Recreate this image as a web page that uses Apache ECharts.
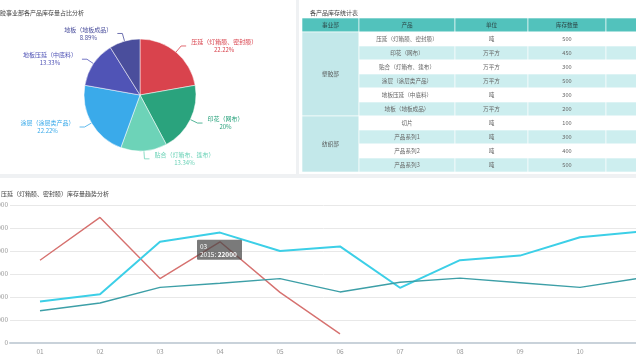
<!DOCTYPE html>
<html><head><meta charset="utf-8">
<script src="https://cdn.jsdelivr.net/npm/echarts@6/dist/echarts.min.js"></script>
<style>
html,body{margin:0;padding:0;background:#eff1f3;width:636px;height:358px;overflow:hidden;}
.panel{position:absolute;background:#fff;}
#chart{position:absolute;left:0;top:0;width:636px;height:358px;}
</style></head><body>
<div class="panel" style="left:0;top:0;width:296px;height:174px"></div>
<div class="panel" style="left:299px;top:0;width:337px;height:174px"></div>
<div class="panel" style="left:0;top:178px;width:636px;height:180px"></div>
<div id="chart"></div>
<script>
// ---- data ----
const pieTitle = '塑胶事业部各产品库存量占比分析';
const tableTitle = '各产品库存统计表';
const lineTitle = '压延（灯箱膜、密封膜）库存量趋势分析';
const tableHeaders = ['事业部', '产品', '单位', '库存数量', '备注'];
const depts = ['塑胶部', '纺织部'];
const products = ['压延（灯箱膜、密封膜）', '印花（网布）', '贴合（灯箱布、篷布）', '涂层（涂层类产品）', '地板压延（中底料）', '地板（地板成品）', '切片', '产品系列1', '产品系列2', '产品系列3'];
const productDept = [0, 0, 0, 0, 0, 0, 1, 1, 1, 1];
const units = ['吨', '万平方', '万平方', '万平方', '吨', '万平方', '吨', '吨', '吨', '吨'];
const stock = [500, 450, 300, 500, 300, 200, 100, 300, 400, 500];
const remarks = ['', '', '', '', '', '', '', '', '', ''];
const pieCount = 6; // 塑胶部 products in pie

const months = ['01', '02', '03', '04', '05', '06', '07', '08', '09', '10', '11'];
const s2015 = [18000, 27300, 14000, 22000, 11000, 2000];
const s2016 = [9000, 10600, 22000, 24000, 20000, 21000, 12000, 18000, 19000, 23000, 24200];
const s2017 = [7000, 8700, 12100, 13000, 14000, 11100, 13200, 14100, 13100, 12100, 14100];
const tipIndex = 3;
const tipLabel = '03';

// ---- styles ----
const FONT = '"Noto Sans CJK SC", "Noto Sans", sans-serif';
const pieColors = ['#d9434d', '#2aa37d', '#6dd3b8', '#3aaaea', '#5054b6', '#4a4e9c'];
const colWidths = [57, 96, 73, 78, 78];
const colEdges = colWidths.reduce((a, w) => { a.push(a[a.length - 1] + w); return a; }, [0]);

// build table cells
const cells = [];
tableHeaders.forEach((h, c) => cells.push({c0: colEdges[c], c1: colEdges[c + 1], r: 0, span: 1, text: h, kind: 'head'}));
depts.forEach((d, di) => {
  const rows = productDept.map((v, i) => v === di ? i : -1).filter(i => i >= 0);
  cells.push({c0: colEdges[0], c1: colEdges[1], r: rows[0] + 1, span: rows.length, text: d, kind: 'dept'});
});
products.forEach((p, i) => {
  const vals = [p, units[i], String(stock[i]), remarks[i]];
  vals.forEach((t, k) => cells.push({c0: colEdges[k + 1], c1: colEdges[k + 2], r: i + 1, span: 1, text: t, kind: i % 2 === 0 ? 'odd' : 'even'}));
});
const rowCats = ['h'].concat(products.map((p, i) => String(i + 1)));
const cellFill = {head: '#52c2bc', dept: '#c3e8ea', odd: '#ffffff', even: '#cdeeef'};
const cellText = {head: '#2d4a4a', dept: '#555', odd: '#666', even: '#666'};

const chart = echarts.init(document.getElementById('chart'), null, {renderer: 'canvas'});
const option = {
  animation: false,
  textStyle: {fontFamily: FONT},
  title: [
    {text: pieTitle, left: -11, top: 5, textStyle: {fontSize: 6, fontWeight: 'normal', color: '#444', fontFamily: FONT}},
    {text: tableTitle, left: 305, top: 5, textStyle: {fontSize: 6, fontWeight: 'normal', color: '#444', fontFamily: FONT}},
    {text: lineTitle, left: -4, top: 186, textStyle: {fontSize: 6, fontWeight: 'normal', color: '#444', fontFamily: FONT}}
  ],
  grid: [
    {left: 302, top: 18, width: colEdges[colEdges.length - 1], height: 154, outerBoundsMode: 'none'},
    {left: 10, top: 205, width: 60 * months.length, height: 138, outerBoundsMode: 'none'}
  ],
  xAxis: [
    {gridIndex: 0, type: 'value', min: 0, max: colEdges[colEdges.length - 1], show: false},
    {gridIndex: 1, type: 'category', data: months, boundaryGap: true,
      axisLine: {lineStyle: {color: '#c9d2da', width: 2}}, axisTick: {show: false},
      axisLabel: {fontSize: 6.5, color: '#999', margin: 5}}
  ],
  yAxis: [
    {gridIndex: 0, type: 'category', data: rowCats, inverse: true, show: false},
    {gridIndex: 1, type: 'value', min: 0, max: 30000, interval: 5000,
      axisLine: {show: false}, axisTick: {show: false},
      axisLabel: {fontSize: 6.5, color: '#999', margin: 2},
      splitLine: {lineStyle: {color: '#e8e8e8'}}}
  ],
  series: [
    {
      type: 'pie', center: [140, 95], radius: 56, startAngle: 90,
      data: products.slice(0, pieCount).map((n, i) => ({
        name: n, value: stock[i],
        itemStyle: {color: pieColors[i]},
        label: {color: pieColors[i]}
      })),
      itemStyle: {borderColor: '#fff', borderWidth: 0.5},
      label: {
        formatter: '{t|{b}}\n{t|{d}%}',
        rich: {t: {align: 'center', fontSize: 6, lineHeight: 8, fontFamily: FONT}},
        fontSize: 6
      },
      labelLine: {length: 8, length2: 5, lineStyle: {width: 0.8}},
      emphasis: {disabled: true}
    },
    {
      type: 'custom', xAxisIndex: 0, yAxisIndex: 0,
      encode: {x: [0, 1], y: 2},
      data: cells.map(c => [c.c0, c.c1, c.r, c.span]),
      renderItem: function (params, api) {
        const cell = cells[params.dataIndex];
        const a = api.coord([cell.c0, cell.r]);
        const b = api.coord([cell.c1, cell.r]);
        const h = api.size([0, 1])[1];
        const y = a[1] - h / 2;
        const H = h * cell.span;
        return {
          type: 'group',
          children: [
            {type: 'rect', shape: {x: a[0], y: y, width: b[0] - a[0], height: H},
              style: {fill: cellFill[cell.kind], stroke: '#ffffff', lineWidth: 0.6}},
            {type: 'text', style: {text: cell.text, x: (a[0] + b[0]) / 2, y: y + H / 2,
              align: 'center', verticalAlign: 'middle', fill: cellText[cell.kind],
              font: '5.6px ' + FONT}}
          ]
        };
      },
      silent: true
    },
    {name: '2015', type: 'line', xAxisIndex: 1, yAxisIndex: 1, data: s2015, showSymbol: false,
      lineStyle: {color: '#d6716f', width: 1.4}, itemStyle: {color: '#d6716f'}},
    {name: '2016', type: 'line', xAxisIndex: 1, yAxisIndex: 1, data: s2016, showSymbol: false,
      lineStyle: {color: '#3ccfe7', width: 2}, itemStyle: {color: '#3ccfe7'}},
    {name: '2017', type: 'line', xAxisIndex: 1, yAxisIndex: 1, data: s2017, showSymbol: false,
      lineStyle: {color: '#3d9fa7', width: 1.4}, itemStyle: {color: '#3d9fa7'}}
  ]
};
chart.setOption(option);

// static tooltip shown in the reference
const p = chart.convertToPixel({seriesIndex: 2}, [tipIndex, s2015[tipIndex]]);
chart.setOption({
  graphic: [
    {type: 'rect', shape: {x: p[0] - 23, y: p[1] - 2, width: 45, height: 20, r: 1},
      style: {fill: 'rgba(70,70,70,0.72)'}, z: 100},
    {type: 'text', x: p[0] - 20, y: p[1] + 1, z: 101,
      style: {text: tipLabel + '\n' + '2015: {b|' + s2015[tipIndex] + '}', fill: '#fff',
        font: '6.5px ' + FONT, lineHeight: 8,
        rich: {b: {fontWeight: 'bold', fontSize: 6.5, fill: '#fff', fontFamily: FONT}}}}
  ]
});
</script>
</body></html>
